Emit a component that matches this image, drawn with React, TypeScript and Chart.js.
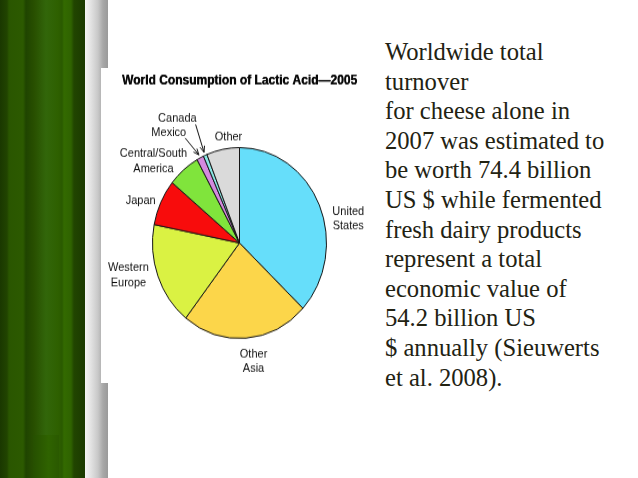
import React, { useEffect, useRef } from "react";
import { Chart, registerables } from "chart.js";

Chart.register(...registerables);

// ---- data ----
const sliceLabels = [
  "United\nStates",
  "Other\nAsia",
  "Western\nEurope",
  "Japan",
  "Central/South\nAmerica",
  "Mexico",
  "Canada",
  "Other",
];
const sliceValues = [37.0, 23.6, 17.5, 7.8, 6.0, 1.3, 0.7, 6.1];
const sliceColors = [
  "#66defa",
  "#fcd64a",
  "#daf243",
  "#f80c0c",
  "#80e43c",
  "#d48ade",
  "#8ae6e4",
  "#dadada",
];
const chartTitle = "World Consumption of Lactic Acid\u20142005";
const slideLines = [
  "Worldwide total",
  "turnover",
  "for cheese alone in",
  "2007 was estimated to",
  "be worth 74.4 billion",
  "US $ while fermented",
  "fresh dairy products",
  "represent a total",
  "economic value of",
  "54.2 billion US",
  "$ annually (Sieuwerts",
  "et al. 2008).",
];

// ---- label placement (angle clockwise from top in degrees, distance from centre) ----
const labelAngles = [78.5, 172.6, 255, 291.2, 311, 324.9, 331.2, 353.5];
const labelDistances = [111, 109, 115, 106, 114, 123, 129, 97];
const labelArrows = [false, false, false, false, false, true, true, false];

const STRETCH = 1.097;

const labelPlugin = {
  id: "sliceLabels",
  afterDraw(chart: any) {
    const ctx = chart.ctx as CanvasRenderingContext2D;
    const meta = chart.getDatasetMeta(0);
    const first = meta.data[0];
    const { x: cx, y: cy, outerRadius } = first.getProps(["x", "y", "outerRadius"], true);
    ctx.save();
    // title
    ctx.fillStyle = "#0a0a0a";
    ctx.font = "bold 12px 'Liberation Sans', Arial, sans-serif";
    ctx.textAlign = "center";
    ctx.textBaseline = "middle";
    ctx.fillText(chartTitle, cx, 12);
    ctx.fillText(chartTitle, cx + 0.4, 12);

    ctx.fillStyle = "#111";
    ctx.font = "11px 'Liberation Sans', Arial, sans-serif";
    const lh = 13.6;
    sliceLabels.forEach((lab, i) => {
      const a = (labelAngles[i] * Math.PI) / 180;
      const d = labelDistances[i];
      const px = cx + d * Math.sin(a);
      const py = cy - d * Math.cos(a);
      const lines = lab.split("\n");
      const top = py - ((lines.length - 1) * lh) / 2;
      lines.forEach((ln, k) => ctx.fillText(ln, px, top + k * lh));
      if (labelArrows[i]) {
        const el = meta.data[i];
        const { startAngle, endAngle } = el.getProps(["startAngle", "endAngle"], true);
        const mid = (startAngle + endAngle) / 2;
        const w = ctx.measureText(lines[0]).width;
        const sx = px + w / 2 - 1;
        const sy = py + 5;
        const ex = cx + (outerRadius + 3) * Math.cos(mid);
        const ey = cy + (outerRadius + 3) * Math.sin(mid);
        ctx.strokeStyle = "#111";
        ctx.lineWidth = 1;
        ctx.beginPath();
        ctx.moveTo(sx, sy);
        ctx.lineTo(ex, ey);
        const ang = Math.atan2(ey - sy, ex - sx);
        const hl = 6;
        ctx.moveTo(ex, ey);
        ctx.lineTo(ex - hl * Math.cos(ang - 0.4), ey - hl * Math.sin(ang - 0.4));
        ctx.moveTo(ex, ey);
        ctx.lineTo(ex - hl * Math.cos(ang + 0.4), ey - hl * Math.sin(ang + 0.4));
        ctx.stroke();
      }
    });
    ctx.restore();
  },
};

function PieChart() {
  const ref = useRef<HTMLCanvasElement>(null);
  useEffect(() => {
    if (!ref.current) return;
    const chart = new Chart(ref.current, {
      type: "pie",
      data: {
        labels: sliceLabels.map((s) => s.replace("\n", " ")),
        datasets: [
          {
            data: sliceValues,
            backgroundColor: sliceColors,
            borderColor: "#151515",
            borderWidth: 1,
          },
        ],
      },
      options: {
        responsive: false,
        animation: false,
        layout: { padding: { left: 51, right: 44, top: 72, bottom: 40 } },
        plugins: {
          legend: { display: false },
          tooltip: { enabled: false },
          title: { display: false },
        },
      },
      plugins: [labelPlugin],
    } as any);
    return () => chart.destroy();
  }, []);
  return (
    <canvas
      ref={ref}
      width={270}
      height={287}
      style={{
        position: "absolute",
        left: 0,
        top: 0,
        width: 270,
        height: 287,
        transform: `scaleY(${STRETCH})`,
        transformOrigin: "0 0",
      }}
    />
  );
}

export default function App() {
  return (
    <div
      style={{
        position: "fixed",
        left: 0,
        top: 0,
        width: 638,
        height: 478,
        background: "#ffffff",
        overflow: "hidden",
      }}
    >
      <div
        style={{
          position: "absolute",
          left: 0,
          top: 0,
          width: 85,
          height: 478,
          background:
            "linear-gradient(to right, #1a3800 0px, #214400 7px, #2a5600 9px, #2c5a00 23px, #1f4400 26px, #284f00 34px, #32660a 46px, #2e6000 58px, #2a5a00 62px, #336a00 64px, #2f6300 71px, #214500 74px, #1b3a00 85px)",
        }}
      />
      <div
        style={{
          position: "absolute",
          left: 33,
          top: 435,
          width: 26,
          height: 43,
          background: "linear-gradient(to right, #264f00, #2f6300 60%, #2a5900)",
        }}
      />
      <div
        style={{
          position: "absolute",
          left: 85,
          top: 0,
          width: 23,
          height: 478,
          background:
            "linear-gradient(to right, #f4f4f4 0px, #e2e2e2 6px, #c8c8c8 13px, #a8a8a8 18px, #9a9a9a 23px)",
        }}
      />
      <div
        style={{
          position: "absolute",
          left: 101,
          top: 68,
          width: 270,
          height: 315,
          background: "#ffffff",
        }}
      >
        <PieChart />
      </div>
      <div
        style={{
          position: "absolute",
          left: 385,
          top: 37,
          fontFamily: "'Liberation Serif', 'Times New Roman', serif",
          fontSize: "24.6px",
          lineHeight: "29.6px",
          color: "#222212",
          whiteSpace: "nowrap",
        }}
      >
        {slideLines.map((l, i) => (
          <div key={i}>{l}</div>
        ))}
      </div>
    </div>
  );
}
